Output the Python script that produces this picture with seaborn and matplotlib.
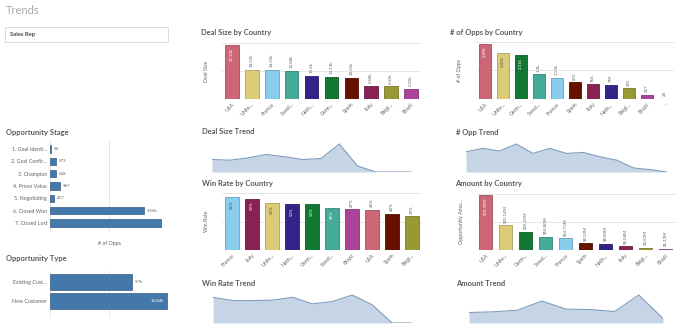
import matplotlib
matplotlib.use("Agg")
import matplotlib.pyplot as plt
import matplotlib.colors as mcolors
from matplotlib.patches import Rectangle
import seaborn as sns
import pandas as pd

sns.set_theme(style="white")
plt.rcParams["font.family"] = ["Lato", "DejaVu Sans"]

W, H = 680, 334

# ---- data -------------------------------------------------------------
stage_labels = ["1. Goal Identi...", "2. Goal Confir...", "3. Champion", "4. Prove Value",
                "5. Negotiating", "6. Closed Won", "7. Closed Lost"]
stage_opps = [94, 573, 628, 967, 417, 9560, 11300]
stage_text = ["94", "573", "628", "967", "417", "9.56k", ""]

type_labels = ["Existing Cust...", "New Customer"]
type_opps = [9700, 13840]
type_text = ["9.7k", "13.84k"]

deal_countries = ["USA", "United Kingdom", "France", "Sweden", "Netherlands",
                  "Germany", "Spain", "Italy", "Belgium", "Brazil"]
deal_size_k = [27.12, 14.55, 14.55, 13.88, 11.6, 11.13, 10.65, 6.58, 6.33, 5.22]

opps_countries = ["USA", "United Kingdom", "Germany", "Sweden", "France", "Spain",
                  "Italy", "Netherlands", "Belgium", "Brazil", "-"]
opps_count = [2890, 2420, 2310, 1300, 1130, 875, 766, 759, 555, 217, 24]

win_countries = ["France", "Italy", "United Kingdom", "Netherlands", "Germany",
                 "Sweden", "Brazil", "USA", "Spain", "Belgium"]
win_rate_pct = [61, 59, 55, 53, 53, 49, 47, 46, 42, 39]

amount_countries = ["USA", "United Kingdom", "Germany", "Sweden", "France", "Spain",
                    "Netherlands", "Italy", "Belgium", "Brazil"]
amount_musd = [78.78, 35.14, 26.25, 18.80, 16.73, 9.33, 8.80, 5.04, 3.52, 1.13]

deal_trend_k = [11.1, 10.5, 12.6, 15.6, 13.5, 11.1, 12.0, 24.9, 5.4, 0, 0, 0]
opp_trend = [1200, 1400, 1240, 1660, 1100, 1400, 1100, 1160, 900, 700, 240, 140, 0]
win_trend_pct = [55, 48, 48, 49, 55, 41, 46, 60, 39, 0, 0]
amount_trend_musd = [7.8, 8.3, 9.5, 16.3, 10.3, 10.0, 8.5, 20.8, 3.3]

short_names = {"United Kingdom": "Unite...", "Sweden": "Swed...", "Netherlands": "Neth...",
               "Germany": "Germ...", "Belgium": "Belgi..."}

palette = {"Netherlands": "#332288", "France": "#88ccee", "Sweden": "#44aa99",
           "Germany": "#117733", "Belgium": "#999933", "United Kingdom": "#ddcc77",
           "Spain": "#661100", "USA": "#cc6677", "Italy": "#882255",
           "Brazil": "#aa4499", "-": "#aa4466"}

BLUE = "#4477aa"
TITLE_C = "#595959"
TEXT_C = "#646464"
GRID_C = "#e2e2e2"
TITLE_FS = 5.45
TICK_FS = 3.8
VAL_FS = 3.15

fig = plt.figure(figsize=(W / 100, H / 100), dpi=100)
fig.patch.set_facecolor("white")


def add_px(x0, y0, x1, y1):
    return fig.add_axes([x0 / W, 1 - y1 / H, (x1 - x0) / W, (y1 - y0) / H])


def text_px(x, y, s, **kw):
    kw.setdefault("va", "center")
    fig.text(x / W, 1 - y / H, s, **kw)


def darker(c, f=0.78):
    r, g, b, _ = mcolors.to_rgba(c)
    return (r * f, g * f, b * f)


def fmt_k(v):
    return f"{v / 1000:g}k" if v >= 1000 else f"{v:g}"


def country_bars(rect, cats, vals, ticks, labels, inside_min, ylabel, ylabel_x):
    ax = add_px(*rect)
    df = pd.DataFrame({"country": cats, "value": vals})
    sns.barplot(data=df, x="country", y="value", hue="country", order=cats,
                hue_order=cats, palette=palette, saturation=1, width=0.68,
                legend=False, ax=ax)
    for p in ax.patches:
        p.set_edgecolor(darker(p.get_facecolor()))
        p.set_linewidth(0.6)
    ax.set_ylim(ticks[0], ticks[-1])
    ax.set_yticks(ticks)
    ax.set_yticklabels([])
    ax.yaxis.grid(True, color=GRID_C, lw=0.6)
    ax.set_axisbelow(True)
    ax.tick_params(axis="both", length=0)
    ax.set_xticks(range(len(cats)))
    ax.set_xticklabels([short_names.get(c, c) for c in cats], rotation=45, ha="right",
                       rotation_mode="anchor", fontsize=TICK_FS, color=TEXT_C)
    ax.tick_params(axis="x", pad=2)
    ax.set_xlabel("")
    ax.set_ylabel("")
    sns.despine(ax=ax, left=True, bottom=True)
    for i, (v, t) in enumerate(zip(vals, labels)):
        if v >= inside_min:
            r, g, b = mcolors.to_rgb(palette[cats[i]])
            lum = 0.299 * r + 0.587 * g + 0.114 * b
            col = "#4a4a4a" if lum > 0.6 else "white"
            ax.annotate(t, (i, v), xytext=(0, -2), textcoords="offset points",
                        rotation=90, ha="center", va="top", fontsize=VAL_FS, color=col)
        else:
            ax.annotate(t, (i, v), xytext=(0, 2), textcoords="offset points",
                        rotation=90, ha="center", va="bottom", fontsize=VAL_FS, color=TEXT_C)
    ymid = (rect[1] + rect[3]) / 2
    text_px(ylabel_x, ymid, ylabel, rotation=90, ha="center", fontsize=TICK_FS, color=TEXT_C)
    return ax


def hbars(rect, cats, vals, texts, ticks, ylim, width, inside_min):
    ax = add_px(*rect)
    df = pd.DataFrame({"stage": cats, "value": vals})
    sns.barplot(data=df, x="value", y="stage", orient="h", color=BLUE, saturation=1,
                width=width, ax=ax)
    for p in ax.patches:
        p.set_edgecolor(darker(BLUE))
        p.set_linewidth(0.5)
    ax.set_xlim(ticks[0], ticks[-1])
    ax.set_ylim(*ylim)
    ax.set_xticks(ticks)
    ax.set_xticklabels([])
    ax.xaxis.grid(True, color=GRID_C, lw=0.6)
    ax.set_axisbelow(True)
    ax.tick_params(axis="both", length=0)
    ax.tick_params(axis="y", pad=2, labelsize=TICK_FS, labelcolor=TEXT_C)
    ax.set_xlabel("")
    ax.set_ylabel("")
    sns.despine(ax=ax, left=True, bottom=True)
    for i, (v, t) in enumerate(zip(vals, texts)):
        if not t:
            continue
        if v >= inside_min:
            ax.annotate(t, (v, i), xytext=(-2, 0), textcoords="offset points",
                        ha="right", va="center", fontsize=VAL_FS, color="white")
        else:
            ax.annotate(t, (v, i), xytext=(2, 0), textcoords="offset points",
                        ha="left", va="center", fontsize=VAL_FS, color=TEXT_C)
    return ax


def trend(rect, vals):
    ax = add_px(*rect)
    xs = list(range(len(vals)))
    sns.lineplot(x=xs, y=vals, ax=ax, color="#7f9cbc", lw=0.8)
    ax.fill_between(xs, vals, color=BLUE, alpha=0.3, lw=0)
    ax.set_xlim(0, len(vals) - 1)
    ax.set_ylim(0, max(vals) * 32 / 28)
    ax.axis("off")
    return ax


# ---- header / filter --------------------------------------------------
text_px(6, 11, "Trends", fontsize=8, color="#a8a8a8", ha="left")
fig.patches.append(Rectangle((5 / W, 1 - 42 / H), 163 / W, 15 / H, transform=fig.transFigure,
                             fill=False, edgecolor="#d6d6d6", lw=0.6))
text_px(10, 34.5, "Sales Rep", fontsize=4.2, fontweight="bold", color="#444444", ha="left")

# ---- left column ------------------------------------------------------
text_px(6, 132, "Opportunity Stage", fontsize=TITLE_FS, fontweight="bold", color=TITLE_C, ha="left")
hbars((50, 141, 168, 232), stage_labels, stage_opps, stage_text,
      [0, 6000, 12000], (6.73, -0.65), 0.6, 1e9)
text_px(110, 243, "# of Opps", fontsize=TICK_FS, color=TEXT_C, ha="center")

text_px(6, 259, "Opportunity Type", fontsize=TITLE_FS, fontweight="bold", color=TITLE_C, ha="left")
hbars((50, 270, 168, 318), type_labels, type_opps, type_text,
      [0, 7000, 14000], (1.89, -0.63), 0.88, 12000)

# ---- country bar charts -----------------------------------------------
text_px(201, 32, "Deal Size by Country", fontsize=TITLE_FS, fontweight="bold", color=TITLE_C, ha="left")
country_bars((222, 43, 421, 99), deal_countries, deal_size_k, [0, 14, 28],
             [f"{v:g}k" for v in deal_size_k], 20, "Deal Size", 207)

text_px(450, 32, "# of Opps by Country", fontsize=TITLE_FS, fontweight="bold", color=TITLE_C, ha="left")
country_bars((476, 42, 674, 99), opps_countries, opps_count, [0, 1500, 3000],
             [fmt_k(v) for v in opps_count], 2000, "# of Opps", 459)

text_px(202, 183, "Win Rate by Country", fontsize=TITLE_FS, fontweight="bold", color=TITLE_C, ha="left")
country_bars((222, 193, 422, 250), win_countries, win_rate_pct, [0, 33, 66],
             [f"{v}%" for v in win_rate_pct], 48, "Win Rate", 207)

text_px(455, 183, "Amount by Country", fontsize=TITLE_FS, fontweight="bold", color=TITLE_C, ha="left")
country_bars((475.5, 194, 675.5, 250), amount_countries, amount_musd, [0, 40, 80],
             [f"${v:.2f}M" for v in amount_musd], 50, "Opportunity Amo...", 461)

# ---- trends -----------------------------------------------------------
text_px(202, 132, "Deal Size Trend", fontsize=TITLE_FS, fontweight="bold", color=TITLE_C, ha="left")
trend((212, 140, 412, 172), deal_trend_k)

text_px(456, 132, "# Opp Trend", fontsize=TITLE_FS, fontweight="bold", color=TITLE_C, ha="left")
trend((466, 140, 667, 172), opp_trend)

text_px(202, 284, "Win Rate Trend", fontsize=TITLE_FS, fontweight="bold", color=TITLE_C, ha="left")
trend((213, 291, 412, 323), win_trend_pct)

text_px(456, 284, "Amount Trend", fontsize=TITLE_FS, fontweight="bold", color=TITLE_C, ha="left")
trend((469, 291, 663, 323), amount_trend_musd)

fig.savefig("out.png", dpi=100, facecolor="white")
